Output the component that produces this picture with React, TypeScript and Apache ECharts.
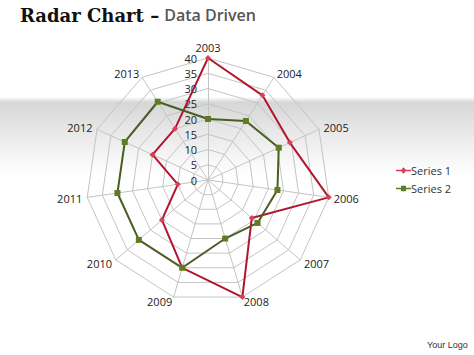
import React, { useEffect, useRef } from "react";
import * as echarts from "echarts";

const categories = ["2003", "2004", "2005", "2006", "2007", "2008", "2009", "2010", "2011", "2012", "2013"];
const series1 = [40, 33, 29.5, 40, 19, 40, 30, 20, 10, 20, 20];
const series2 = [20, 23, 25.5, 23, 21.5, 20, 30, 30, 30, 30, 30.5];
const axisMax = 40;
const axisStep = 5;
const splitCount = 8;

// ECharts radar runs counter-clockwise; reorder so the categories run clockwise
const clockwise = <T,>(arr: T[]): T[] => [arr[0], ...arr.slice(1).reverse()];

export default function App() {
  const ref = useRef<HTMLDivElement>(null);
  useEffect(() => {
    if (!ref.current) return;
    const chart = echarts.init(ref.current, undefined, { renderer: "svg" });
    const font = "'Open Sans', 'DejaVu Sans', sans-serif";
    const cats = clockwise(categories);
    const cx = 208;
    const cy = 180;
    const r = 122;
    chart.setOption({
      animation: false,
      backgroundColor: "#ffffff",
      title: {
        left: 15,
        top: 1,
        text: "{a|Radar Chart –} {b|Data Driven}",
        textStyle: {
          rich: {
            a: { fontFamily: "'DejaVu Serif', serif", fontWeight: "bold", fontSize: 18, color: "#111111" },
            b: { fontFamily: font, fontWeight: 600, fontSize: 16, color: "#555555" },
          },
        },
      },
      graphic: [
        {
          type: "rect",
          z: -10,
          silent: true,
          shape: { x: 0, y: 97, width: 474, height: 78 },
          style: {
            fill: new echarts.graphic.LinearGradient(0, 0, 0, 1, [
              { offset: 0, color: "#ffffff" },
              { offset: 0.07, color: "#d6d6d6" },
              { offset: 0.35, color: "#e4e4e4" },
              { offset: 1, color: "#ffffff" },
            ]),
          },
        },
        {
          type: "text",
          x: 427,
          y: 345,
          style: {
            text: "Your Logo",
            fontFamily: "'Liberation Sans', sans-serif",
            fontSize: 9,
            fill: "#333333",
            textVerticalAlign: "middle",
          },
        },
      ],
      // invisible cartesian axis aligned with the top spoke, used only for the value labels
      grid: { left: cx, top: cy - r, width: 1, height: r, containLabel: false },
      xAxis: { type: "value", show: false, min: 0, max: 1 },
      yAxis: {
        type: "value",
        min: 0,
        max: axisMax,
        interval: axisStep,
        position: "left",
        axisLine: { show: false },
        axisTick: { show: false },
        splitLine: { show: false },
        axisLabel: { fontFamily: font, fontSize: 11, color: "#222222", margin: 11 },
      },
      legend: {
        orient: "vertical",
        left: 396,
        top: 165,
        padding: 0,
        itemWidth: 15,
        itemHeight: 7,
        itemGap: 7,
        textStyle: { fontFamily: font, fontSize: 11, color: "#333333", padding: [0, 0, 0, -5] },
        data: [
          { name: "Series 1", icon: "path://M0,3 L15,3 L15,4.4 L0,4.4 Z M7.5,0.5 L10.5,3.7 L7.5,6.9 L4.5,3.7 Z" },
          { name: "Series 2", icon: "path://M0,3 L15,3 L15,4.4 L0,4.4 Z M5,1 L10,1 L10,6.4 L5,6.4 Z" },
        ],
      },
      radar: {
        center: [cx, cy],
        radius: r,
        shape: "polygon",
        splitNumber: splitCount,
        startAngle: 90,
        nameGap: 5,
        axisName: { fontFamily: font, fontSize: 11, color: "#222222" },
        indicator: cats.map((c) => ({ name: c, min: 0, max: axisMax })),
        axisLabel: { show: false },
        axisLine: { lineStyle: { color: "#c4c4c4", width: 1 } },
        splitLine: { lineStyle: { color: "#c4c4c4", width: 1 } },
        splitArea: { show: false },
      },
      series: [
        {
          type: "radar",
          data: [
            {
              name: "Series 1",
              value: clockwise(series1),
              symbol: "diamond",
              symbolSize: 6,
              lineStyle: { color: "#b0172f", width: 2 },
              itemStyle: { color: "#d8405a" },
            },
            {
              name: "Series 2",
              value: clockwise(series2),
              symbol: "rect",
              symbolSize: 6,
              lineStyle: { color: "#4a5d23", width: 2 },
              itemStyle: { color: "#5e7d22" },
            },
          ],
        },
      ],
    });
    return () => chart.dispose();
  }, []);
  return <div ref={ref} style={{ position: "fixed", left: 0, top: 0, width: 474, height: 355 }} />;
}
